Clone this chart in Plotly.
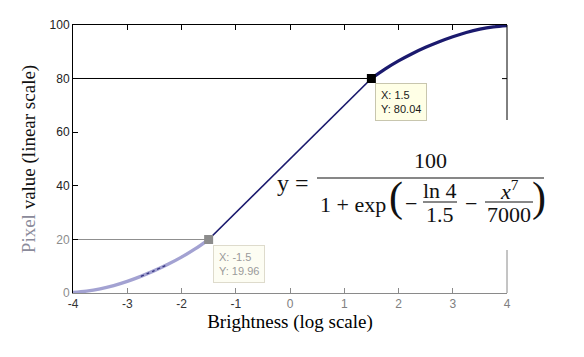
import plotly.graph_objects as go

# ---- data ----
brightness = [-4.0, -3.75, -3.5, -3.25, -3.0, -2.75, -2.5, -2.25, -2.0, -1.75, -1.5,
              -1.25, -1.0, -0.75, -0.5, -0.25, 0.0, 0.25, 0.5, 0.75, 1.0, 1.25, 1.5,
              1.75, 2.0, 2.25, 2.5, 2.75, 3.0, 3.25, 3.5, 3.75, 4.0]
pixel_value = [0.24, 0.70, 1.55, 2.79, 4.37, 6.23, 8.34, 10.71, 13.39, 16.46, 19.96,
               23.94, 28.41, 33.33, 38.65, 44.25, 50.0, 55.75, 61.35, 66.67, 71.59, 76.06, 80.04,
               83.54, 86.61, 89.29, 91.67, 93.77, 95.63, 97.21, 98.45, 99.30, 99.76]
tip_x = [-1.5, 1.5]
tip_y = [19.96, 80.04]
x_ticks = [-4, -3, -2, -1, 0, 1, 2, 3, 4]
y_ticks = [0, 20, 40, 60, 80, 100]
x_label = "Brightness (log scale)"
y_label_gray = "Pixel"
y_label_rest = " value (linear scale)"

# ---- layout geometry (pixels) ----
W, H = 584, 357
L, R, T, B = 73, 507, 25, 293


def px(x):
    return (x - L) / (R - L)


def py(y):
    return (B - y) / (B - T)


i_lo = brightness.index(tip_x[0])
i_mid = brightness.index(0.0)
i_hi = brightness.index(tip_x[1])

NAVY = "#1b1a6e"
LAV = "#a3a2d2"
SERIF = "Liberation Serif"
SANS = "Liberation Sans"

fig = go.Figure()

# horizontal guide lines to the data tips
fig.add_trace(go.Scatter(x=[brightness[0], tip_x[0]], y=[tip_y[0], tip_y[0]], mode="lines",
                         line=dict(color="#8f8f8f", width=1), hoverinfo="skip", showlegend=False))
fig.add_trace(go.Scatter(x=[brightness[0], tip_x[1]], y=[tip_y[1], tip_y[1]], mode="lines",
                         line=dict(color="#000000", width=1), hoverinfo="skip", showlegend=False))

# curve segments
fig.add_trace(go.Scatter(x=brightness[:i_lo + 1], y=pixel_value[:i_lo + 1], mode="lines",
                         line=dict(color=LAV, width=3.4, shape="spline"), showlegend=False))
fig.add_trace(go.Scatter(x=brightness[5:8], y=pixel_value[5:8], mode="lines",
                         line=dict(color=NAVY, width=1.3, shape="spline", dash="dot"),
                         opacity=0.8, showlegend=False))
mid_x = [brightness[i_lo], brightness[i_mid], brightness[i_hi]]
mid_y = [pixel_value[i_lo], pixel_value[i_mid], pixel_value[i_hi]]
fig.add_trace(go.Scatter(x=mid_x, y=mid_y, mode="lines",
                         line=dict(color=NAVY, width=1.7), showlegend=False))
fig.add_trace(go.Scatter(x=brightness[i_hi:], y=pixel_value[i_hi:], mode="lines",
                         line=dict(color=NAVY, width=3.2, shape="spline"), showlegend=False))

# data tip markers
fig.add_trace(go.Scatter(x=tip_x, y=tip_y, mode="markers",
                         marker=dict(symbol="square", size=9, color=["#8c8c8c", "#000000"],
                                     line=dict(width=0)),
                         cliponaxis=False, showlegend=False))

# dummy trace for the mirrored top axis
fig.add_trace(go.Scatter(x=[brightness[0], brightness[-1]], y=[None, None], xaxis="x2",
                         mode="lines", showlegend=False, hoverinfo="skip"))

# data tip boxes
tip_styles = [
    dict(color="#9a9a9a", bg="#fdfdf3", border="#dedbcc"),
    dict(color="#1a1a1a", bg="#ffffe6", border="#c8c6ae"),
]
for xv, yv, st in zip(tip_x, tip_y, tip_styles):
    fig.add_annotation(x=xv, y=yv, xref="x", yref="y", showarrow=False,
                       text=f"X: {xv:g}<br>Y: {yv:.2f}", align="left",
                       xanchor="left", yanchor="top", xshift=4, yshift=-5,
                       font=dict(family=SANS, size=11, color=st["color"]),
                       bgcolor=st["bg"], bordercolor=st["border"], borderwidth=1, borderpad=5)


# ---- formula drawn with text ----
def ftext(text, x, y, size=22, xanchor="center"):
    fig.add_annotation(x=px(x), y=py(y), xref="paper", yref="paper", text=text,
                       showarrow=False, xanchor=xanchor, yanchor="middle",
                       font=dict(family=SERIF, size=size, color="#111111"))


def fbar(x0, x1, y, w=1.2):
    fig.add_shape(type="line", xref="paper", yref="paper", x0=px(x0), x1=px(x1),
                  y0=py(y), y1=py(y), line=dict(color="#111111", width=w))


ftext("y =", 293, 183, size=24)
fbar(317, 544, 178)
ftext("100", 430, 160)
ftext("1 + exp", 318, 204, xanchor="left")
ftext("(", 396, 197, size=42)
ftext("−", 411, 203)
ftext("ln 4", 440, 190)
fbar(423, 457, 202, 1.0)
ftext("1.5", 440, 215)
ftext("−", 471, 203)
ftext("<i>x</i><sup>7</sup>", 509, 190)
fbar(485, 533, 202, 1.0)
ftext("7000", 509, 215)
ftext(")", 539, 197, size=42)

# right axis line (interrupted by the formula) and its tick
fig.add_shape(type="line", xref="paper", yref="paper", x0=1, x1=1, y0=py(T), y1=py(120),
              line=dict(color="#000000", width=1))
fig.add_shape(type="line", xref="paper", yref="paper", x0=1, x1=1, y0=py(250), y1=0,
              line=dict(color="#8a8a8a", width=1))
fig.add_shape(type="line", xref="paper", yref="y", x0=1, x1=1 - 5 / (R - L), y0=80, y1=80,
              line=dict(color="#000000", width=1))

x_ticktext = [f'<span style="color:{"#333333" if v < 0 else "#808080"}">{v}</span>' for v in x_ticks]
y_ticktext = [f'<span style="color:{"#8c8c8c" if v < 40 else "#222222"}">{v}</span>' for v in y_ticks]

fig.update_layout(
    width=W, height=H,
    margin=dict(l=L, r=W - R, t=T, b=H - B),
    paper_bgcolor="white", plot_bgcolor="white",
    showlegend=False,
    xaxis=dict(range=[-4, 4], tickvals=x_ticks, ticktext=x_ticktext,
               showgrid=False, zeroline=False, showline=True, linecolor="#8a8a8a", linewidth=1,
               ticks="inside", ticklen=5, tickcolor="#8a8a8a",
               tickfont=dict(family=SANS, size=12),
               title=dict(text=x_label, font=dict(family=SERIF, size=19, color="#000000"),
                          standoff=4)),
    xaxis2=dict(range=[-4, 4], overlaying="x", side="top", tickvals=x_ticks,
                showticklabels=False, showgrid=False, zeroline=False, showline=True,
                linecolor="#000000", linewidth=1, ticks="inside", ticklen=5, tickcolor="#000000"),
    yaxis=dict(range=[0, 100], tickvals=y_ticks, ticktext=y_ticktext,
               showgrid=False, zeroline=False, showline=True, linecolor="#000000", linewidth=1,
               ticks="inside", ticklen=5, tickcolor="#000000",
               tickfont=dict(family=SANS, size=12),
               title=dict(text=f'<span style="color:#8a8a9a">{y_label_gray}</span>{y_label_rest}',
                          font=dict(family=SERIF, size=19, color="#111111"), standoff=8)),
)

fig.write_html("out.html")
